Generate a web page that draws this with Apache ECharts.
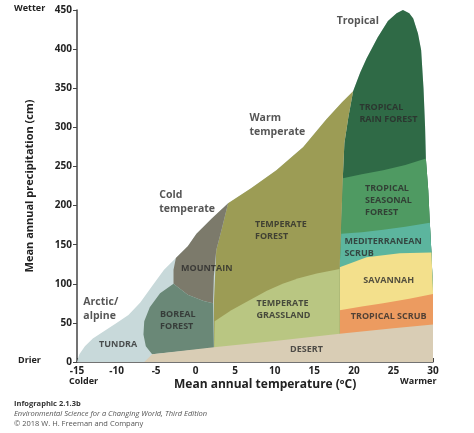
<!DOCTYPE html>
<html><head><meta charset="utf-8">
<script src="https://cdn.jsdelivr.net/npm/echarts@6/dist/echarts.min.js"></script>
<style>html,body{margin:0;padding:0;background:#fff}#c{width:474px;height:433px}</style>
</head><body><div id="c"></div>
<script>
const xTicks=[-15,-10,-5,0,5,10,15,20,25,30];
const yTicks=[0,50,100,150,200,250,300,350,400,450];
const envelope=[[-15,0],[-14.7,10],[-14,20],[-13,30],[-11.5,40],[-10,50],[-8.5,60],[-7,76],[-5.5,97],[-4,118],[-2.5,133],[-1,148],[0.1,164],[2,183],[4.1,203],[7,222],[10.2,245],[13.6,275],[16.5,310],[18.5,332],[19.9,346],[20.8,370],[21.6,388],[23,415],[24.3,436],[25.4,446],[26.2,450],[27,446],[27.5,439],[28.1,420],[28.5,399],[28.8,350],[29,300],[29.1,260],[29.4,220],[29.6,178],[29.8,140],[30,90],[30,0]];
const tropLeft=[[18.2,120],[18.6,235],[18.8,280],[19.3,313],[19.9,346]];
const seasonalTop=[[18.6,235],[21,240],[23.7,245],[26.5,252],[29.1,260]];
const medTop=[[18.4,164],[21,166],[23.7,169],[26.5,173],[29.6,178]];
const savTop=[[18.2,121],[20,128],[21.6,134],[25.8,139],[29.8,140]];
const scrubTop=[[18.2,66],[21,71],[23.7,75],[27,81],[30,87]];
const grassTop=[[2.4,52],[4.5,66],[6.8,79],[9,91],[11,100],[13,107],[15.3,113],[18.2,119]];
const desertTop=[[-5.5,10],[2.3,19],[10,27],[18.2,36],[25,43],[30,48]];
const mountain=[[-2.8,100],[-2.8,118],[-2.5,133],[-1,148],[0.1,164],[2,183],[4.1,203],[3.3,170],[2.6,143],[2.3,110],[2.2,75],[1,78],[-1,86],[-2.8,100]];
const boreal=[[-5.5,10],[-6.3,20],[-6.6,35],[-6.5,52],[-5.8,70],[-4.5,88],[-2.8,100],[-1,86],[1,78],[2.2,75],[2.3,18]];
const colors={tundra:'#c8d9da',rain:'#2f6a46',seasonal:'#4f9a62',med:'#5cb59e',sav:'#f3e08c',scrub:'#ec9b60',tforest:'#9c9c55',grass:'#b9c682',mountain:'#7c7a6b',boreal:'#6a8877',desert:'#d9cdb5'};
const env=(a,b)=>envelope.filter(p=>p[0]>=a&&p[0]<=b&&p[1]>0);
const polys=[
 ['tundra',envelope],
 ['rain',[[18.2,0],...tropLeft,...env(20,29.1),[29.4,220],[29.6,178],[29.8,140],[30,90],[30,0]]],
 ['seasonal',[[18.2,0],[18.2,120],...seasonalTop,[29.4,220],[29.6,178],[29.8,140],[30,90],[30,0]]],
 ['med',[[18.2,0],[18.2,120],...medTop,[29.8,140],[30,90],[30,0]]],
 ['sav',[[18.2,0],...savTop,[30,90],[30,0]]],
 ['scrub',[[18.2,0],...scrubTop,[30,0]]],
 ['tforest',[[2.3,0],[2.3,75],[2.6,143],[3.3,170],...env(4.1,19.9),...tropLeft.slice().reverse(),[18.2,0]]],
 ['grass',[[2.3,0],...grassTop,[18.2,0]]],
 ['mountain',mountain],
 ['boreal',boreal],
 ['desert',[[-6.5,0],...desertTop,[30,0]]]
];
const regionLabels=[
 ['TUNDRA',-9.8,23,'center'],['BOREAL\nFOREST',-4.5,53,'left'],['MOUNTAIN',1.4,119,'center'],
 ['TEMPERATE\nFOREST',7.5,168,'left'],['TEMPERATE\nGRASSLAND',7.7,67,'left'],['DESERT',14,16,'center'],
 ['TROPICAL\nRAIN FOREST',20.7,318,'left'],['TROPICAL\nSEASONAL\nFOREST',21.4,207,'left'],
 ['MEDITERRANEAN\nSCRUB',18.8,147,'left'],['SAVANNAH',24.4,104,'center'],['TROPICAL SCRUB',24.4,58,'center']
];
const zoneLabels=[['Tropical',20.5,436,'center'],['Warm\ntemperate',6.8,303,'left'],['Cold\ntemperate',-4.6,204,'left'],['Arctic/\nalpine',-14.2,68,'left']];
const series=polys.map(([k,pts])=>({type:'custom',coordinateSystem:'cartesian2d',clip:false,silent:true,data:[[0,0]],
 renderItem:(params,api)=>({type:'polygon',shape:{points:pts.map(p=>api.coord(p))},style:{fill:colors[k]}})}));
function lab(arr,font,weight,size,lh){return {type:'scatter',symbolSize:0,silent:true,z:10,
 data:arr.map(l=>({value:[l[1],l[2]],label:{show:true,formatter:l[0],position:'inside',align:l[3],verticalAlign:'middle',color:'#2b2b2b',fontFamily:font,fontWeight:weight,fontSize:size,lineHeight:lh}}))};}
series.push(lab(regionLabels,'Open Sans','bold',9,12));
series.push(lab(zoneLabels,'Open Sans','bold',10.5,14));
const chart=echarts.init(document.getElementById('c'));
chart.setOption({animation:false,
 grid:{left:77,right:41,top:10,bottom:71},
 xAxis:{type:'value',min:-15,max:30,interval:5,splitLine:{show:false},
  axisLine:{onZero:false,lineStyle:{color:'#444',width:1.5}},axisTick:{inside:true,length:4,lineStyle:{color:'#444'}},
  axisLabel:{color:'#222',fontWeight:'bold',fontSize:10,margin:4,fontFamily:'Open Sans',formatter:v=>xTicks.includes(v)?String(v):''}},
 yAxis:{type:'value',min:0,max:450,interval:50,splitLine:{show:false},
  axisLine:{show:true,onZero:false,lineStyle:{color:'#444',width:1.5}},axisTick:{show:true,length:4,lineStyle:{color:'#444'}},
  axisLabel:{color:'#222',fontWeight:'bold',fontSize:10,margin:5,fontFamily:'Open Sans',formatter:v=>yTicks.includes(v)?String(v):''}},
 graphic:[
  {type:'text',left:14,top:4,style:{text:'Wetter',font:'bold 9px "Open Sans"',fill:'#222'}},
  {type:'text',left:18,top:356,style:{text:'Drier',font:'bold 9px "Open Sans"',fill:'#222'}},
  {type:'text',left:69,top:377,style:{text:'Colder',font:'bold 9px "Open Sans"',fill:'#222'}},
  {type:'text',left:400,top:377,style:{text:'Warmer',font:'bold 9px "Open Sans"',fill:'#222'}},
  {type:'text',left:174,top:379,style:{text:'Mean annual temperature (ºC)',font:'bold 12px "Open Sans"',fill:'#222'}},
  {type:'text',x:30,y:186,rotation:Math.PI/2,style:{text:'Mean annual precipitation (cm)',font:'bold 11px "Open Sans"',fill:'#222',align:'center',verticalAlign:'middle'}},
  {type:'text',left:14,top:400,style:{text:'Infographic 2.1.3b',font:'bold 7.5px "Open Sans"',fill:'#333'}},
  {type:'text',left:14,top:410,style:{text:'Environmental Science for a Changing World, Third Edition',font:'italic 7.5px "Open Sans"',fill:'#555'}},
  {type:'text',left:14,top:420,style:{text:'© 2018 W. H. Freeman and Company',font:'7.5px "Open Sans"',fill:'#555'}}
 ],
 series});
</script></body></html>
